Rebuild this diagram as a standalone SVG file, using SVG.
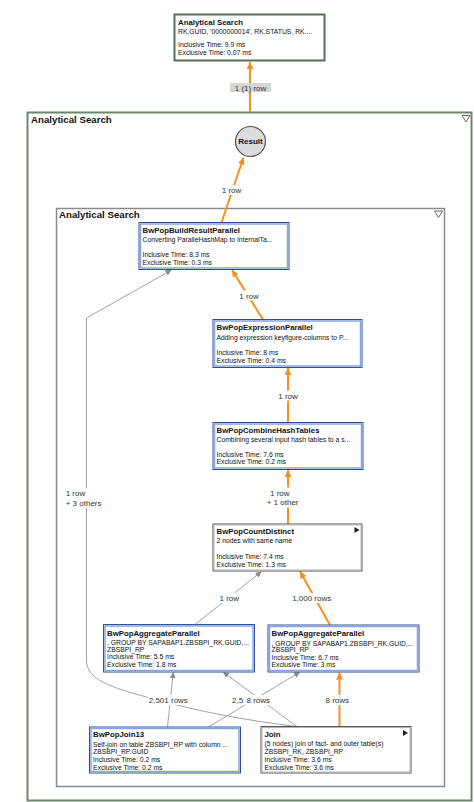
<svg xmlns="http://www.w3.org/2000/svg" width="474" height="802" viewBox="0 0 474 802">
<style>
text{font-family:"Liberation Sans",Arial,sans-serif;fill:#111}
.nt{font-size:7.8px;font-weight:bold}
.nb{font-size:6.8px}
.el{font-size:8px;fill:#333}
.ct{font-size:9.7px;font-weight:bold}
.bo{fill:#fff;stroke:#2f4f9c;stroke-width:1}
.bi{fill:none;stroke:#86a5e4;stroke-width:1.5}
.go{fill:#fff;stroke:#555;stroke-width:1}
.gi{fill:none;stroke:#b4b4b4;stroke-width:1}
.eo{fill:none;stroke:#f5901e;stroke-width:2}
.eg{fill:none;stroke:#a3a3a3;stroke-width:1}
.lb{fill:#fff}
</style>
<defs>
<marker id="ao" viewBox="0 0 10 10" refX="10" refY="5" markerWidth="7" markerHeight="7" markerUnits="userSpaceOnUse" orient="auto"><path d="M0,0 L10,5 L0,10 z" fill="#f5901e"/></marker>
<marker id="ag" viewBox="0 0 10 10" refX="10" refY="5" markerWidth="6" markerHeight="6" markerUnits="userSpaceOnUse" orient="auto"><path d="M0,0 L10,5 L0,10 z" fill="#8a8a8a"/></marker>
</defs>
<rect width="474" height="802" fill="#fff"/>
<g id="outer-container">
<rect x="27.5" y="112.5" width="444" height="688" fill="#fff" stroke="#6b876b" stroke-width="2"/>
<text class="ct" x="31" y="122.5">Analytical Search</text>
<polygon points="462,115.5 470,115.5 466,122" fill="none" stroke="#444" stroke-width="0.8"/>
</g>
<g id="inner-container">
<rect x="56.5" y="208.5" width="388" height="578" fill="#fff" stroke="#8a8a8a" stroke-width="1.5"/>
<text class="ct" x="59" y="218">Analytical Search</text>
<polygon points="434.5,211 442.5,211 438.5,217.5" fill="none" stroke="#444" stroke-width="0.8"/>
</g>
<g id="connectors">
<path class="eo" d="M250,112 L250,62" marker-end="url(#ao)"/>
<path class="eo" d="M221.5,222.5 L243.5,157.5" marker-end="url(#ao)"/>
<path class="eo" d="M263,319.5 L232,270" marker-end="url(#ao)"/>
<path class="eo" d="M288,422.5 L288,368" marker-end="url(#ao)"/>
<path class="eo" d="M288,524 L288,470" marker-end="url(#ao)"/>
<path class="eg" d="M195,624.5 L261.5,571.5" marker-end="url(#ag)"/>
<path class="eo" d="M330,625 L300,571.5" marker-end="url(#ao)"/>
<path class="eo" d="M339.5,726.5 L339.5,672.5" marker-end="url(#ao)"/>
<path class="eg" d="M167.5,727 L173.3,672" marker-end="url(#ag)"/>
<path class="eg" d="M208.5,727 L300,672" marker-end="url(#ag)"/>
<path class="eg" d="M297,726.5 L223,672" marker-end="url(#ag)"/>
<path class="eg" d="M297,726.5 C250,721 200,712 150,698 C110,687 86.5,680 86.5,660 L86.5,318 L171.5,270" marker-end="url(#ag)"/>
<rect x="230" y="83" width="41" height="9" fill="#d6d6d6"/>
<text class="el" x="250.5" y="90.5" text-anchor="middle">1 (1) row</text>
<rect class="lb" x="221" y="185" width="21" height="10"/>
<text class="el" x="231.5" y="192.8" text-anchor="middle">1 row</text>
<rect class="lb" x="238.5" y="290.5" width="21" height="10"/>
<text class="el" x="249" y="298.5" text-anchor="middle">1 row</text>
<rect class="lb" x="277.5" y="390.5" width="21" height="10"/>
<text class="el" x="288" y="398.5" text-anchor="middle">1 row</text>
<rect class="lb" x="266" y="487.5" width="37" height="20"/>
<text class="el" x="270" y="495.5">1 row</text>
<text class="el" x="266.7" y="505.1">+ 1 other</text>
<rect class="lb" x="64.5" y="488" width="38" height="20"/>
<text class="el" x="65.7" y="496.1">1 row</text>
<text class="el" x="65.7" y="506.1">+ 3 others</text>
<rect class="lb" x="219" y="593" width="21" height="10"/>
<text class="el" x="229.3" y="601.1" text-anchor="middle">1 row</text>
<rect class="lb" x="291" y="593" width="41" height="10"/>
<text class="el" x="311.7" y="601.1" text-anchor="middle">1,000 rows</text>
<rect class="lb" x="325" y="695" width="25" height="10"/>
<text class="el" x="337.3" y="702.8" text-anchor="middle">8 rows</text>
<rect class="lb" x="148" y="695" width="41" height="10"/>
<text class="el" x="168.3" y="702.8" text-anchor="middle">2,501 rows</text>
<rect class="lb" x="231" y="695" width="13" height="10"/>
<text class="el" x="232" y="702.8">2,5</text>
<rect class="lb" x="245.5" y="695" width="25" height="10"/>
<text class="el" x="246.5" y="702.8">8 rows</text>
</g>
<g id="top-node">
<rect x="174.5" y="14.5" width="150" height="46" fill="#fff" stroke="#567256" stroke-width="2"/>
<text class="nt" x="178" y="25">Analytical Search</text>
<text class="nb" x="178" y="34">RK.GUID, '0000000014', RK.STATUS, RK....</text>
<text class="nb" x="178" y="47">Inclusive Time: 9.9 ms</text>
<text class="nb" x="178" y="55">Exclusive Time: 0.07 ms</text>
</g>
<g id="result">
<circle cx="250.5" cy="141.5" r="15" fill="#dcdcdc" stroke="#555" stroke-width="1.2"/>
<text x="250.5" y="144.3" text-anchor="middle" style="font-size:8px;font-weight:bold">Result</text>
</g>
<g id="build-result">
<rect class="bo" x="139" y="222.5" width="150" height="47"/>
<rect class="bi" x="140.5" y="224" width="147" height="44"/>
<text class="nt" x="142.5" y="232.5">BwPopBuildResultParallel</text>
<text class="nb" x="142.5" y="242">Converting ParalleHashMap to InternalTa...</text>
<text class="nb" x="142.5" y="257">Inclusive Time: 8.3 ms</text>
<text class="nb" x="142.5" y="264.5">Exclusive Time: 0.3 ms</text>
</g>
<g id="expression">
<rect class="bo" x="213" y="319.5" width="149" height="48"/>
<rect class="bi" x="214.5" y="321" width="146" height="45"/>
<text class="nt" x="216.5" y="330">BwPopExpressionParallel</text>
<text class="nb" x="216.5" y="339.5">Adding expression keyfigure-columns to P...</text>
<text class="nb" x="216.5" y="355">Inclusive Time: 8 ms</text>
<text class="nb" x="216.5" y="363">Exclusive Time: 0.4 ms</text>
</g>
<g id="combine">
<rect class="bo" x="213" y="422.5" width="150" height="47"/>
<rect class="bi" x="214.5" y="424" width="147" height="44"/>
<text class="nt" x="216.5" y="433">BwPopCombineHashTables</text>
<text class="nb" x="216.5" y="442">Combining several input hash tables to a s...</text>
<text class="nb" x="216.5" y="456.8">Inclusive Time: 7.6 ms</text>
<text class="nb" x="216.5" y="464.4">Exclusive Time: 0.2 ms</text>
</g>
<g id="count-distinct">
<rect class="go" x="213" y="524" width="149" height="47"/>
<rect class="gi" x="214" y="525" width="147" height="45"/>
<text class="nt" x="216.5" y="533.5">BwPopCountDistinct</text>
<text class="nb" x="216.5" y="543.3">2 nodes with same name</text>
<text class="nb" x="216.5" y="559.3">Inclusive Time: 7.4 ms</text>
<text class="nb" x="216.5" y="566.6">Exclusive Time: 1.3 ms</text>
<polygon points="354.5,527 354.5,533 359.5,530" fill="#222"/>
</g>
<g id="aggregate-1">
<rect class="bo" x="103.5" y="624.5" width="151" height="47.5"/>
<rect class="bi" x="105" y="626" width="148" height="44.5"/>
<text class="nt" x="107" y="635.5">BwPopAggregateParallel</text>
<text class="nb" x="107" y="645">, GROUP BY SAPABAP1.ZBSBPI_RK.GUID,...</text>
<text class="nb" x="107" y="651.8">ZBSBPI_RP</text>
<text class="nb" x="107" y="659.3">Inclusive Time: 5.5 ms</text>
<text class="nb" x="107" y="666.7">Exclusive Time: 1.8 ms</text>
</g>
<g id="aggregate-2">
<rect class="bo" x="268" y="625" width="151" height="47"/>
<rect class="bi" x="269.5" y="626.5" width="148" height="44"/>
<text class="nt" x="271.5" y="636">BwPopAggregateParallel</text>
<text class="nb" x="271.5" y="645.5">, GROUP BY SAPABAP1.ZBSBPI_RK.GUID,...</text>
<text class="nb" x="271.5" y="652.3">ZBSBPI_RP</text>
<text class="nb" x="271.5" y="659.8">Inclusive Time: 6.7 ms</text>
<text class="nb" x="271.5" y="667.2">Exclusive Time: 3 ms</text>
</g>
<g id="join13">
<rect class="bo" x="89.5" y="727" width="151" height="46"/>
<rect class="bi" x="91" y="728.5" width="148" height="43"/>
<text class="nt" x="93" y="737">BwPopJoin13</text>
<text class="nb" x="93" y="746.5">Self-join on table ZBSBPI_RP with column ...</text>
<text class="nb" x="93" y="753.5">ZBSBPI_RP.GUID</text>
<text class="nb" x="93" y="761.8">Inclusive Time: 0.2 ms</text>
<text class="nb" x="93" y="769.8">Exclusive Time: 0.2 ms</text>
</g>
<g id="join">
<rect class="go" x="261" y="726.5" width="150" height="46.5"/>
<rect class="gi" x="262" y="727.5" width="148" height="44.5"/>
<text class="nt" x="264.5" y="737">Join</text>
<text class="nb" x="264.5" y="746">(5 nodes) join of fact- and outer table(s)</text>
<text class="nb" x="264.5" y="753.5">ZBSBPI_RK, ZBSBPI_RP</text>
<text class="nb" x="264.5" y="761.8">Inclusive Time: 3.6 ms</text>
<text class="nb" x="264.5" y="769.8">Exclusive Time: 3.6 ms</text>
<polygon points="403,730 403,736 408,733" fill="#222"/>
</g>
</svg>
